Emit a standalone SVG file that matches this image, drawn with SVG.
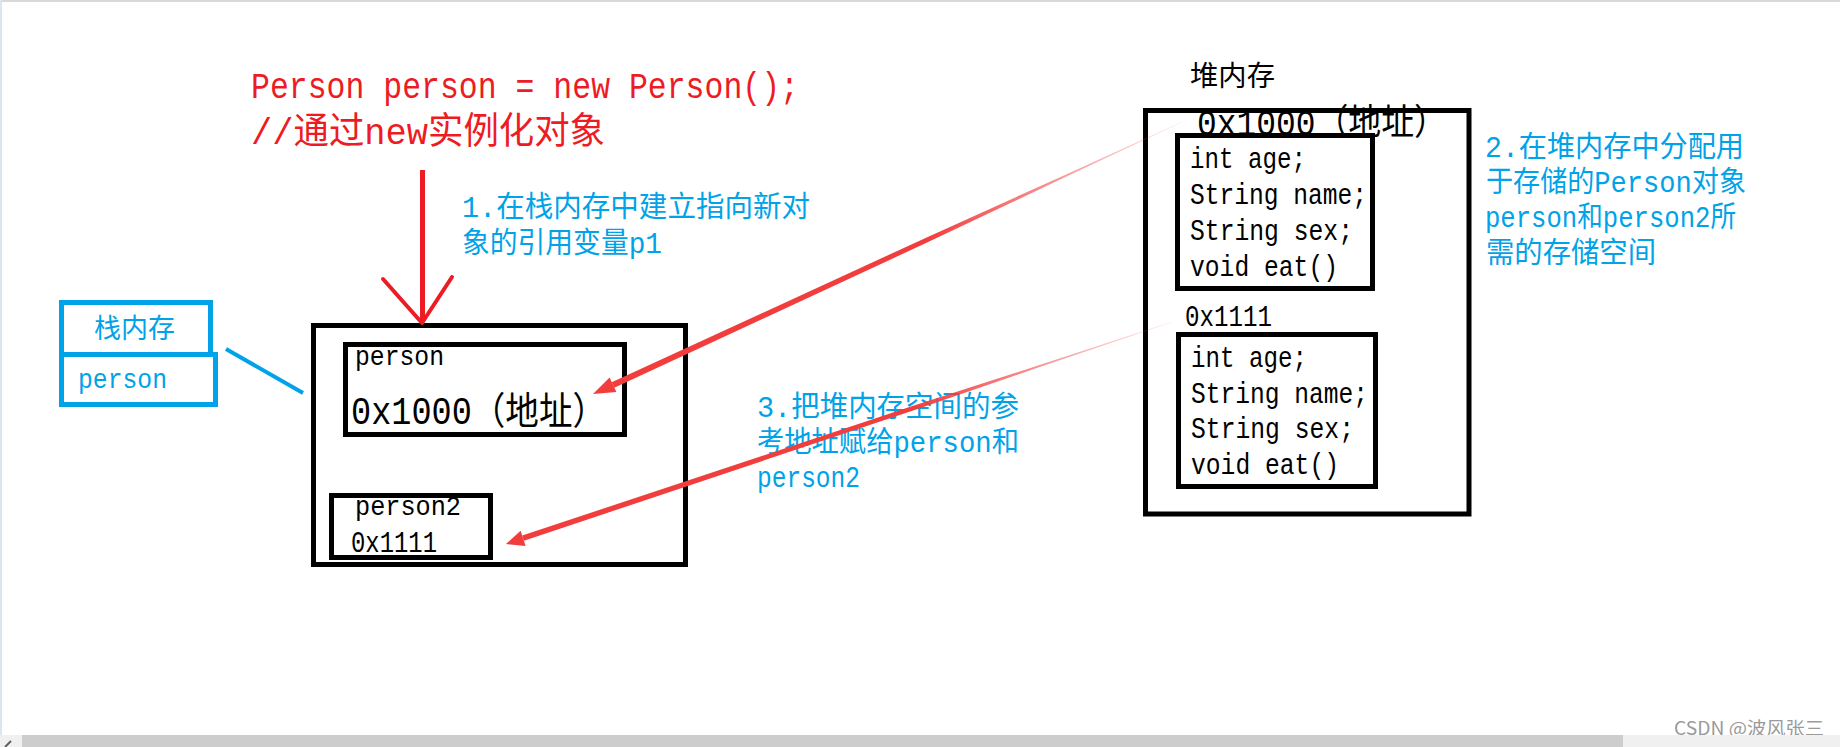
<svg xmlns="http://www.w3.org/2000/svg" width="1840" height="747" viewBox="0 0 1840 747">
  <style>
    .mono { font-family: "Liberation Mono", "Noto Sans CJK SC", monospace; }
    .cjk { font-family: "Noto Sans CJK SC", "Liberation Mono", sans-serif; }
    .red { fill: #ed1c24; }
    .blue { fill: #00a2e8; }
    .blk { fill: #000000; }
    .box { fill: none; stroke: #000000; stroke-width: 5; }
    .bbox { fill: none; stroke: #00a2e8; stroke-width: 5; }
  </style>
  <defs>
    <linearGradient id="fade1" gradientUnits="userSpaceOnUse" x1="1182" y1="122" x2="926" y2="240">
      <stop offset="0" stop-color="#f23d3d" stop-opacity="0.1"/>
      <stop offset="1" stop-color="#f23d3d" stop-opacity="1"/>
    </linearGradient>
    <linearGradient id="fade2" gradientUnits="userSpaceOnUse" x1="1172" y1="322" x2="912" y2="408">
      <stop offset="0" stop-color="#f23d3d" stop-opacity="0.1"/>
      <stop offset="1" stop-color="#f23d3d" stop-opacity="1"/>
    </linearGradient>
  </defs>

  <rect x="0" y="0" width="1840" height="747" fill="#ffffff"/>
  <rect x="0" y="0" width="1840" height="2" fill="#d9d9d9"/>
  <rect x="0" y="0" width="2" height="735" fill="#dce6f0"/>

  <g id="code">
    <text class="mono red" x="251" y="98" font-size="37" textLength="548" lengthAdjust="spacingAndGlyphs">Person person = new Person();</text>
    <text class="mono red" x="251" y="144" font-size="37" textLength="354" lengthAdjust="spacingAndGlyphs">//通过new实例化对象</text>
  </g>

  <g id="note1">
    <text class="mono blue" x="462" y="217" font-size="29" textLength="348" lengthAdjust="spacingAndGlyphs">1.在栈内存中建立指向新对</text>
    <text class="mono blue" x="462" y="253" font-size="29" textLength="200" lengthAdjust="spacingAndGlyphs">象的引用变量p1</text>
  </g>

  <g id="stack-label">
    <rect class="bbox" x="61.5" y="302.5" width="149" height="52"/>
    <rect class="bbox" x="61.5" y="354.5" width="154" height="50"/>
    <text class="cjk blue" x="134.5" y="338" font-size="27" text-anchor="middle">栈内存</text>
    <text class="mono blue" x="78" y="388" font-size="28" textLength="89" lengthAdjust="spacingAndGlyphs">person</text>
  </g>

  <g id="stack-frame">
    <rect class="box" x="313.5" y="325.5" width="372" height="239"/>
  </g>

  <g id="person-ref">
    <rect class="box" x="345.5" y="344.5" width="279" height="90"/>
    <text class="mono blk" x="355" y="365" font-size="28" textLength="89" lengthAdjust="spacingAndGlyphs">person</text>
    <text class="mono blk" x="351" y="424" font-size="38" textLength="255" lengthAdjust="spacingAndGlyphs">0x1000（地址）</text>
  </g>

  <g id="person2-ref">
    <rect class="box" x="331.5" y="495.5" width="159" height="62"/>
    <text class="mono blk" x="355" y="515" font-size="28" textLength="106" lengthAdjust="spacingAndGlyphs">person2</text>
    <text class="mono blk" x="351" y="552" font-size="29" textLength="86" lengthAdjust="spacingAndGlyphs">0x1111</text>
  </g>

  <g id="note3">
    <text class="mono blue" x="757" y="417" font-size="29" textLength="262" lengthAdjust="spacingAndGlyphs">3.把堆内存空间的参</text>
    <text class="mono blue" x="757" y="452" font-size="29" textLength="262" lengthAdjust="spacingAndGlyphs">考地址赋给person和</text>
    <text class="mono blue" x="757" y="487" font-size="29" textLength="103" lengthAdjust="spacingAndGlyphs">person2</text>
  </g>

  <g id="heap">
    <text class="cjk blk" x="1190" y="86" font-size="28" textLength="85" lengthAdjust="spacingAndGlyphs">堆内存</text>
    <rect class="box" x="1145.5" y="110.5" width="323.5" height="403.5"/>
    <text class="mono blk" x="1197" y="135" font-size="36" textLength="250" lengthAdjust="spacingAndGlyphs">0x1000（地址）</text>
    <text class="mono blk" x="1185" y="326" font-size="29" textLength="87" lengthAdjust="spacingAndGlyphs">0x1111</text>
  </g>

  <g id="heap-obj1">
    <rect class="box" x="1177.5" y="135.5" width="195" height="153"/>
    <text class="mono blk" x="1190" y="168" font-size="29" textLength="116" lengthAdjust="spacingAndGlyphs">int age;</text>
    <text class="mono blk" x="1190" y="204" font-size="29" textLength="177" lengthAdjust="spacingAndGlyphs">String name;</text>
    <text class="mono blk" x="1190" y="240" font-size="29" textLength="163" lengthAdjust="spacingAndGlyphs">String sex;</text>
    <text class="mono blk" x="1190" y="276" font-size="29" textLength="148" lengthAdjust="spacingAndGlyphs">void eat()</text>
  </g>

  <g id="heap-obj2">
    <rect class="box" x="1178.5" y="334.5" width="197" height="152"/>
    <text class="mono blk" x="1191" y="367" font-size="29" textLength="116" lengthAdjust="spacingAndGlyphs">int age;</text>
    <text class="mono blk" x="1191" y="403" font-size="29" textLength="177" lengthAdjust="spacingAndGlyphs">String name;</text>
    <text class="mono blk" x="1191" y="438" font-size="29" textLength="163" lengthAdjust="spacingAndGlyphs">String sex;</text>
    <text class="mono blk" x="1191" y="474" font-size="29" textLength="148" lengthAdjust="spacingAndGlyphs">void eat()</text>
  </g>

  <g id="note2">
    <text class="mono blue" x="1485" y="157" font-size="29" textLength="259" lengthAdjust="spacingAndGlyphs">2.在堆内存中分配用</text>
    <text class="mono blue" x="1486" y="192" font-size="29" textLength="260" lengthAdjust="spacingAndGlyphs">于存储的Person对象</text>
    <text class="mono blue" x="1485" y="227" font-size="29" textLength="251" lengthAdjust="spacingAndGlyphs">person和person2所</text>
    <text class="mono blue" x="1486" y="263" font-size="29" textLength="170" lengthAdjust="spacingAndGlyphs">需的存储空间</text>
  </g>

  <g id="connectors">
    <line x1="226" y1="349" x2="303" y2="393" stroke="#00a2e8" stroke-width="4"/>
    <line x1="422.5" y1="170" x2="422.5" y2="322" stroke="#ed1c24" stroke-width="5"/>
    <polyline points="383,279 422,323 452,277" fill="none" stroke="#ed1c24" stroke-width="4" stroke-linecap="round" stroke-linejoin="round"/>
    <polygon points="1182.1,122.3 1068.6,175.5 927.0,242.6 614.3,387.7 611.7,382.3 925.0,238.2 1067.8,173.7 1181.9,121.7" fill="url(#fade1)"/>
    <polygon points="593,394 616.4,392 609.6,377.5" fill="#f23d3d"/>
    <polygon points="1172.1,322.3 1042.5,366.1 913.1,410.5 524.0,540.8 522.2,535.5 911.7,406.3 1041.9,364.3 1171.9,321.7" fill="url(#fade2)"/>
    <polygon points="506,544 525.6,545.9 520.6,530.7" fill="#f23d3d"/>
  </g>

  <g id="watermark">
    <text class="cjk" x="1674" y="735" font-size="18" fill="#9a9a9a" textLength="150" lengthAdjust="spacingAndGlyphs">CSDN @波风张三</text>
  </g>

  <g id="scrollbar">
    <rect x="0" y="735" width="1840" height="12" fill="#f0f0f0"/>
    <rect x="22" y="735" width="1601" height="12" fill="#cdcdcd"/>
    <path d="M5,747 L11,741" stroke="#606060" stroke-width="2" fill="none"/>
  </g>
</svg>
